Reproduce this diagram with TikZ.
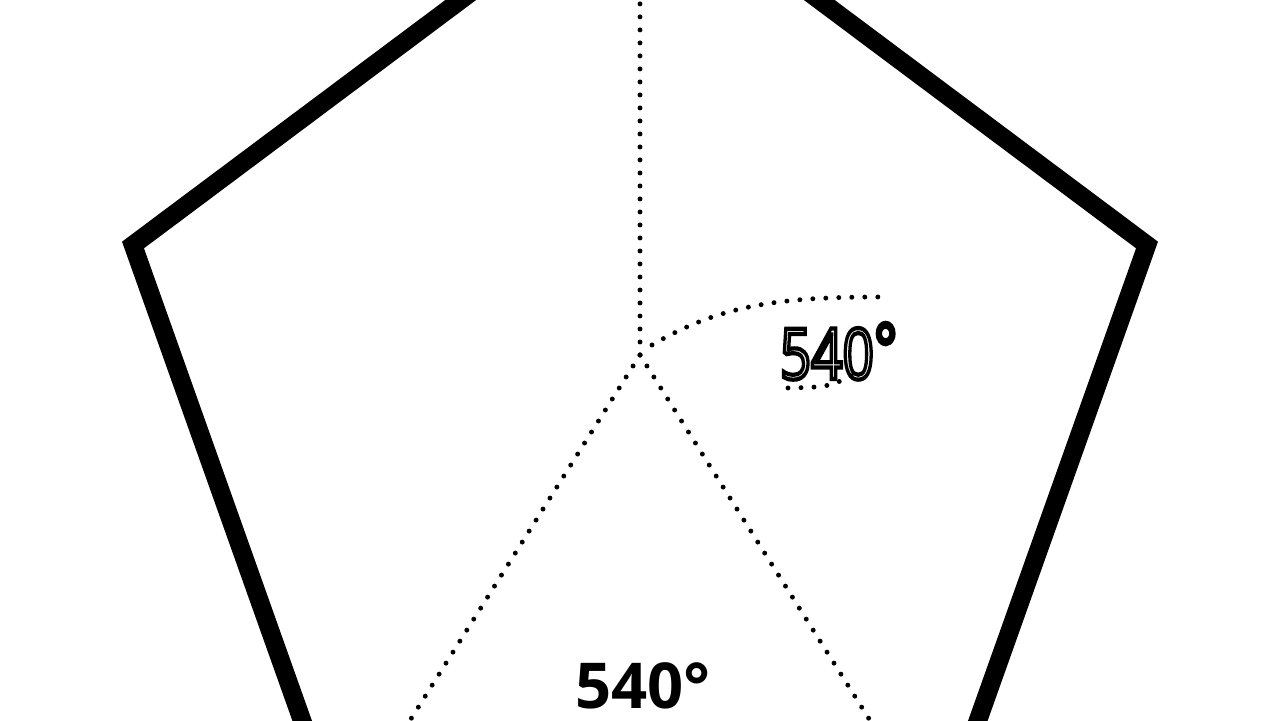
\documentclass[tikz,border=0pt]{standalone}
\usepackage{fontspec}
\setmainfont{Open Sans}
\newcommand{\outlinetext}[1]{\special{pdf:literal direct 1 Tr 2.4 w}#1\special{pdf:literal direct 0 Tr}}
\begin{document}
\begin{tikzpicture}[scale=1, line join=miter, line cap=round, >=stealth,
	side/.style={line width=10.5pt, line join=miter, line cap=butt},
	dots/.style={line width=2.8pt, dash pattern=on 0pt off 7.4pt, line cap=round}]
			\def\W{25.6} \def\H{14.4}
			\fill[white] (0,0) rectangle (\W,\H);
			\useasboundingbox (0,0) rectangle (\W,\H);
			\clip (0,0) rectangle (\W,\H);
			% pentagon corners and inner point
			\coordinate (T) at (12.8,17.08);
			\coordinate (L) at (2.66,9.5);
			\coordinate (R) at (22.94,9.5);
			\coordinate (BL) at (6.82,-2.2);
			\coordinate (BR) at (18.78,-2.2);
			\coordinate (O) at (12.8,7.3);
			\draw[side] (T)--(R)--(BR)--(BL)--(L)--cycle;
			\foreach \v in {T,BL,BR}\draw[dots] (O)--(\v);
			% loop round the small label
			\coordinate (a1) at (13.04,7.5); \coordinate (a2) at (17.6,8.46);
			\coordinate (b1) at (15.76,6.64); \coordinate (b2) at (17.2,6.98);
			\draw[dots] (a1) .. controls (14.4,8.3) and (15.6,8.46) .. (a2);
			\draw[dots] (b1) .. controls (16.6,6.66) .. (b2);
			\node[anchor=base west, xscale=0.78, transform shape, font=\fontsize{40}{40}\selectfont] (hand) at (15.5,6.82) {\outlinetext{540\raisebox{3pt}{°}}};
			\node[anchor=base, inner sep=0pt, text depth=0pt, font=\bfseries\fontsize{36}{36}\selectfont] (sum) at (12.86,0.24) {540°};
		\end{tikzpicture}
\end{document}
